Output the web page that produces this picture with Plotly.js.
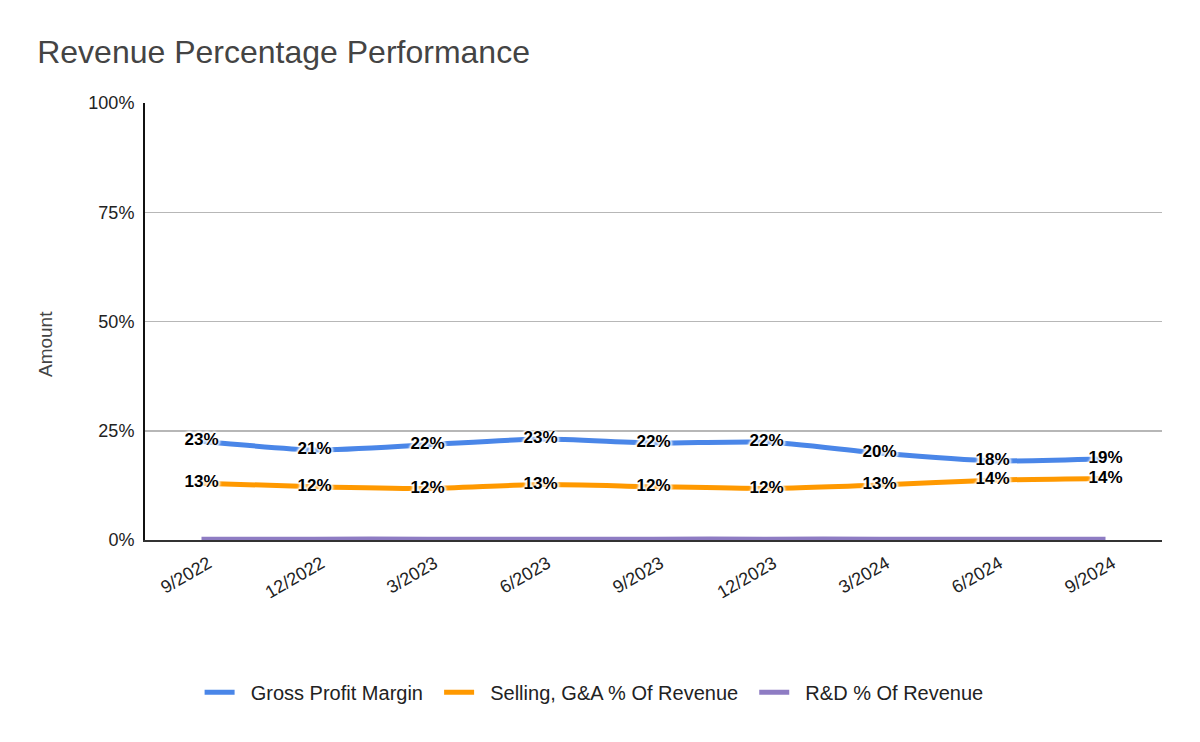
<!DOCTYPE html>
<html>
<head>
<meta charset="utf-8">
<script src="https://cdn.plot.ly/plotly-3.0.1.min.js"></script>
<style>
  html, body { margin: 0; padding: 0; background: #fff; }
  #gd { width: 1200px; height: 742px; }
</style>
</head>
<body>
<div id="gd"></div>
<script>
// quarters on the x axis
var quarters = ["9/2022", "12/2022", "3/2023", "6/2023", "9/2023", "12/2023", "3/2024", "6/2024", "9/2024"];

// values, as fractions of revenue
var grossProfitMargin = [0.226, 0.206, 0.218, 0.231, 0.222, 0.224, 0.199, 0.181, 0.186];
var sgaPctRevenue = [0.130, 0.122, 0.118, 0.127, 0.122, 0.118, 0.126, 0.137, 0.141];
var rdPctRevenue = [0.002, 0.002, 0.002, 0.0015, 0.002, 0.002, 0.002, 0.0015, 0.0015];

var seriesNames = ["Gross Profit Margin", "Selling, G&A % Of Revenue", "R&D % Of Revenue"];

var yTicks = [0, 0.25, 0.5, 0.75, 1];
var yTickText = ["0%", "25%", "50%", "75%", "100%"];

function pctLabels(arr) {
  return arr.map(function (v) { return Math.round(v * 100) + "%"; });
}

// a little padding so legend entries sit as far apart as in the original
function legendName(s) {
  return "\u00a0\u00a0" + s + "\u00a0\u00a0";
}

var labelFont = {
  family: "Liberation Sans, Arial, sans-serif",
  size: 17,
  color: "#000000",
  weight: "bold",
  shadow: "2px 0 2px #fff, -2px 0 2px #fff, 0 2px 2px #fff, 0 -2px 2px #fff"
};

var data = [
  {
    x: quarters,
    y: grossProfitMargin,
    name: legendName(seriesNames[0]),
    type: "scatter",
    mode: "lines+text",
    line: {color: "#4a86e8", width: 5, shape: "spline", smoothing: 0.6},
    text: pctLabels(grossProfitMargin),
    textposition: "middle center",
    textfont: labelFont,
    cliponaxis: false
  },
  {
    x: quarters,
    y: sgaPctRevenue,
    name: legendName(seriesNames[1]),
    type: "scatter",
    mode: "lines+text",
    line: {color: "#ff9900", width: 5, shape: "spline", smoothing: 0.6},
    text: pctLabels(sgaPctRevenue),
    textposition: "middle center",
    textfont: labelFont,
    cliponaxis: false
  },
  {
    x: quarters,
    y: rdPctRevenue,
    name: legendName(seriesNames[2]),
    type: "scatter",
    mode: "lines",
    line: {color: "#8e7cc3", width: 5, shape: "spline", smoothing: 0.6},
    cliponaxis: false
  }
];

var layout = {
  width: 1200,
  height: 742,
  margin: {l: 145, r: 38, t: 103, b: 202},
  paper_bgcolor: "#ffffff",
  plot_bgcolor: "#ffffff",
  font: {family: "Liberation Sans, Arial, sans-serif", color: "#222222"},
  title: {
    text: "Revenue Percentage Performance",
    x: 0.031,
    xanchor: "left",
    y: 0.93,
    yanchor: "middle",
    font: {size: 32, color: "#444444"}
  },
  xaxis: {
    type: "category",
    range: [-0.5, 8.5],
    tickangle: -30,
    tickfont: {size: 18, color: "#222222"},
    ticklabelshift: 7,
    ticklabelstandoff: 4,
    showgrid: false,
    showline: true,
    linecolor: "#333333",
    linewidth: 2,
    ticks: "",
    fixedrange: true
  },
  yaxis: {
    range: [0, 1],
    tickvals: yTicks,
    ticktext: yTickText,
    tickfont: {size: 18, color: "#222222"},
    showgrid: true,
    gridcolor: "#b7b7b7",
    gridwidth: 1.5,
    zeroline: false,
    showline: true,
    linecolor: "#111111",
    linewidth: 2,
    ticks: "",
    ticklabelstandoff: 5,
    fixedrange: true
  },
  annotations: [
    {
      text: "Amount",
      xref: "paper",
      yref: "paper",
      x: -0.0983,
      y: 0.4485,
      xanchor: "center",
      yanchor: "middle",
      textangle: -90,
      showarrow: false,
      font: {size: 19, color: "#444444"}
    }
  ],
  legend: {
    orientation: "h",
    x: 0.447,
    xanchor: "center",
    y: -0.304,
    yanchor: "top",
    font: {size: 20, color: "#222222"},
    itemwidth: 30,
    traceorder: "normal"
  },
  showlegend: true
};

Plotly.newPlot("gd", data, layout, {displayModeBar: false, staticPlot: true});
</script>
</body>
</html>
